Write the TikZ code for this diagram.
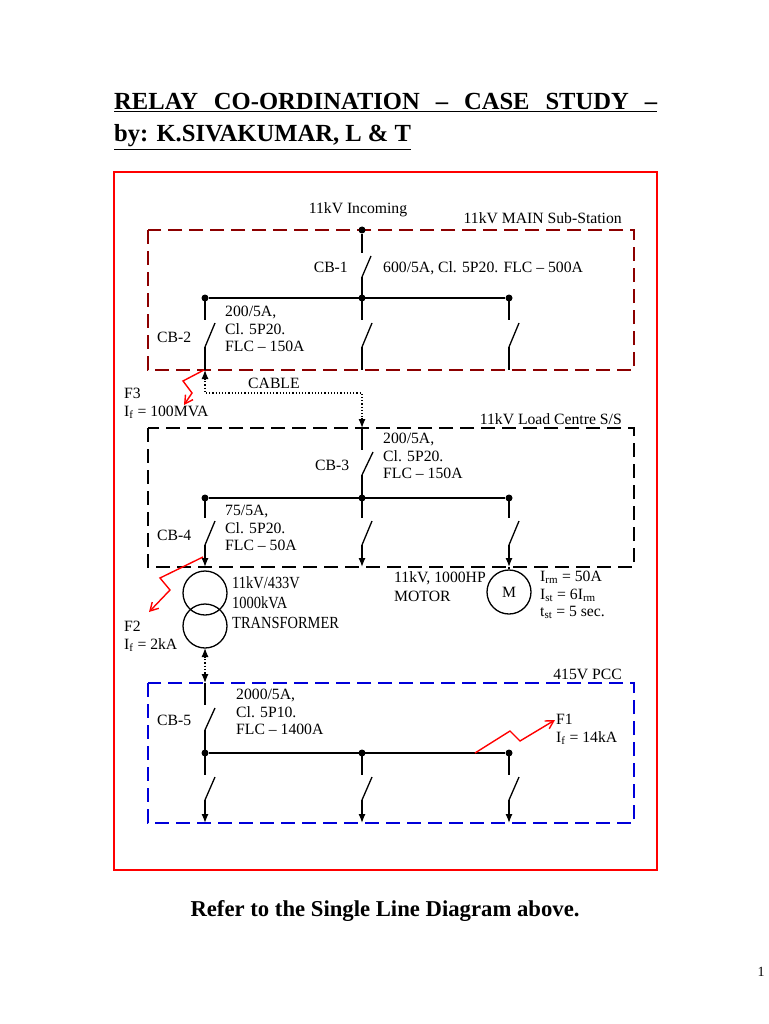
\documentclass[tikz,border=0pt]{standalone}
\usepackage{fontspec}
\setmainfont{Liberation Serif}
\usetikzlibrary{arrows.meta}
\begin{document}
\begin{tikzpicture}[x=1pt,y=-1pt,
  lbl/.style={inner sep=0pt,font=\fontsize{15.7}{17.5}\selectfont,align=left},
  wire/.style={line width=1.3pt},
  dot/.style={circle,fill=black,inner sep=0pt,minimum size=7pt},
  tip/.style={-{Latex[length=9pt,width=7pt]}},
  fault/.style={red,line width=1.4pt,-{Straight Barb[length=8pt,width=9pt]}},
  box/.style={dashed,dash pattern=on 14pt off 7pt,line width=1.6pt}]
\useasboundingbox (0,0) rectangle (768,1024);
% title
\node[anchor=base west,inner sep=0pt,font=\fontsize{24.6}{28}\selectfont\bfseries] (t1) at (114,110)
  {\underline{\makebox[543pt][s]{RELAY CO-ORDINATION – CASE STUDY –}}};
\node[anchor=base west,inner sep=0pt,font=\fontsize{24.6}{28}\selectfont\bfseries] (t2) at (114,142)
  {\underline{by: K.SIVAKUMAR, L \& T}};
\node[anchor=base,inner sep=0pt,font=\fontsize{22.7}{26}\selectfont\bfseries] (ref) at (385,916) {Refer to the Single Line Diagram above.};
\node[anchor=base,inner sep=0pt,font=\fontsize{14}{16}\selectfont] (pg) at (761,976) {1};
% frame
\draw[red,line width=1.2pt] (114,172) rectangle (657,870);
\draw[box,color=red!55!black] (148,230) rectangle (634,370);
\draw[box,black] (148,428) rectangle (634,567);
\draw[box,color=blue!85!black] (148,683) rectangle (634,823);
% ---- box 1
\node[dot] (in) at (362,230) {};
\draw[wire] (in) -- (362,253); \draw[wire] (362,277) -- (371,256); \draw[wire] (362,277) -- (362,298);
\node[dot] (b1a) at (205,298) {}; \node[dot] (b1b) at (362,298) {}; \node[dot] (b1c) at (509,298) {};
\draw[wire] (b1a) -- (b1c);
\foreach \x in {205,362,509}{
  \draw[wire] (\x,298) -- (\x,320); \draw[wire] (\x,347) -- (\x+10,323); \draw[wire] (\x,347) -- (\x,370);}
% cable
\coordinate (c0) at (205,370); \coordinate (c3) at (362,428);
\draw[dotted,line width=1.2pt] (205,378) -- (205,393) -- (362,393) -- (362,420);
\draw[tip,line width=1.2pt] (205,380) -- (c0);
\draw[tip,line width=1.2pt] (362,418) -- (c3);
% ---- box 2
\draw[wire] (c3) -- (362,450); \draw[wire] (362,475) -- (373,452); \draw[wire] (362,475) -- (362,498);
\node[dot] (b2a) at (205,498) {}; \node[dot] (b2b) at (362,498) {}; \node[dot] (b2c) at (509,498) {};
\draw[wire] (b2a) -- (b2c);
\foreach \x in {205,362,509}{
  \draw[wire] (\x,498) -- (\x,518); \draw[wire] (\x,545) -- (\x+10,521); \draw[tip,wire] (\x,545) -- (\x,567);}
% transformer & motor
\draw[line width=1.3pt] (205,593) circle (22);
\draw[line width=1.3pt] (205,626) circle (22);
\node[circle,draw,line width=1.3pt,minimum size=44pt,inner sep=0pt,font=\fontsize{15.7}{17}\selectfont] (M) at (509,592) {M};
\draw[wire] (509,567) -- (M.north);
\coordinate (tb) at (205,648);
\draw[tip,line width=1.2pt] (205,658) -- (tb);
\draw[dotted,line width=1.2pt] (205,656) -- (205,675);
\coordinate (c5) at (205,683);
\draw[tip,line width=1.2pt] (205,673) -- (c5);
% ---- box 3
\draw[wire] (c5) -- (205,705); \draw[wire] (205,730) -- (215,708); \draw[wire] (205,730) -- (205,753);
\node[dot] (b3a) at (205,753) {}; \node[dot] (b3b) at (362,753) {}; \node[dot] (b3c) at (509,753) {};
\draw[wire] (b3a) -- (b3c);
\foreach \x in {205,362,509}{
  \draw[wire] (\x,753) -- (\x,775); \draw[wire] (\x,800) -- (\x+10,777); \draw[tip,wire] (\x,800) -- (\x,823);}
% faults
\draw[fault] (204,370) -- (183,381) -- (192,393) -- (184,405);
\draw[fault] (203,557) -- (160,578) -- (170,590) -- (149,612);
\draw[fault] (475,753) -- (510,731) -- (520,741) -- (555,720);
% labels
\node[lbl,anchor=base] (l1) at (358,214) {11kV Incoming};
\node[lbl,anchor=base east] (l2) at (622,224) {11kV MAIN Sub-Station};
\node[lbl,anchor=base east] (l3) at (348,272) {CB-1};
\node[lbl,anchor=base west] (l4) at (383,272) {600/5A, Cl. 5P20. FLC – 500A};
\node[lbl,anchor=north west] (l5) at (225,306) {200/5A,\\Cl. 5P20.\\FLC – 150A};
\node[lbl,anchor=base west] (l6) at (157,342) {CB-2};
\node[lbl,anchor=base west] (l7) at (248,388) {CABLE};
\node[lbl,anchor=north west] (l8) at (124,388) {F3\\I\textsubscript{f} = 100MVA};
\node[lbl,anchor=base east] (l9) at (622,424) {11kV Load Centre S/S};
\node[lbl,anchor=north west] (l10) at (383,433) {200/5A,\\Cl. 5P20.\\FLC – 150A};
\node[lbl,anchor=base west] (l11) at (315,470) {CB-3};
\node[lbl,anchor=north west] (l12) at (225,505) {75/5A,\\Cl. 5P20.\\FLC – 50A};
\node[lbl,anchor=base west] (l13) at (157,540) {CB-4};
\node[lbl,anchor=north west,font=\fontsize{17}{20}\selectfont] (l14) at (232,576) {\scalebox{0.85}[1]{11kV/433V}\\\scalebox{0.85}[1]{1000kVA}\\\scalebox{0.85}[1]{TRANSFORMER}};
\node[lbl,anchor=north west,font=\fontsize{15.7}{19}\selectfont] (l15) at (394,571) {11kV, 1000HP\\MOTOR};
\node[lbl,anchor=north west] (l16) at (540,571) {I\textsubscript{rm} = 50A\\I\textsubscript{st} = 6I\textsubscript{rm}\\t\textsubscript{st} = 5 sec.};
\node[lbl,anchor=north west] (l17) at (124,621) {F2\\I\textsubscript{f} = 2kA};
\node[lbl,anchor=base east] (l18) at (622,679) {415V PCC};
\node[lbl,anchor=north west] (l19) at (236,689) {2000/5A,\\Cl. 5P10.\\FLC – 1400A};
\node[lbl,anchor=base west] (l20) at (157,725) {CB-5};
\node[lbl,anchor=north west] (l21) at (556,714) {F1\\I\textsubscript{f} = 14kA};
\end{tikzpicture}
\end{document}
